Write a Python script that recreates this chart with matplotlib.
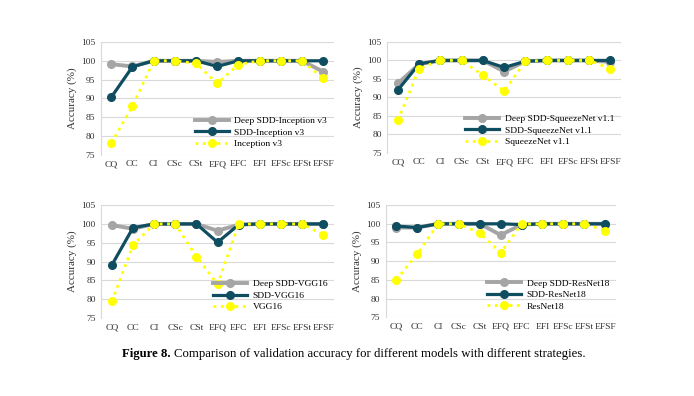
import matplotlib
matplotlib.use('Agg')
import matplotlib.pyplot as plt

plt.rcParams['font.family'] = ['Liberation Serif', 'DejaVu Serif']

strategies = ['CQ', 'CC', 'CI', 'CSc', 'CSt', 'EFQ', 'EFC', 'EFI', 'EFSc', 'EFSt', 'EFSF']

# Inception v3
deep_inc = [99.1, 98.5, 100, 100, 100, 99.7, 100, 100, 100, 100, 97.1]
sdd_inc = [90.3, 98.4, 100, 100, 100, 98.5, 100, 100, 100, 100, 100]
base_inc = [78.1, 87.9, 100, 100, 99.3, 94.0, 99.0, 100, 100, 100, 95.3]

# SqueezeNet v1.1
deep_sq = [93.8, 99.0, 100, 100, 100, 97.0, 99.8, 100, 100, 100, 99.6]
sdd_sq = [92.0, 99.1, 100, 100, 100, 98.1, 99.8, 100, 100, 100, 100]
base_sq = [83.8, 97.8, 100, 100, 96.0, 91.7, 99.8, 100, 100, 100, 97.8]

# VGG16
deep_vgg = [99.7, 98.7, 100, 100, 100, 98.2, 99.8, 100, 100, 100, 100]
sdd_vgg = [89.1, 99.0, 100, 100, 100, 95.1, 99.8, 100, 100, 100, 100]
base_vgg = [79.4, 94.4, 100, 100, 91.3, 84.0, 99.9, 100, 100, 100, 97.1]

# ResNet18
deep_res = [99.0, 99.0, 100, 100, 100, 97.0, 99.8, 100, 100, 100, 100]
sdd_res = [99.4, 99.0, 100, 100, 100, 100, 99.8, 100, 100, 100, 100]
base_res = [85.0, 91.9, 100, 100, 97.5, 92.3, 99.9, 100, 100, 100, 98.2]

panels = [
    ('Inception v3', deep_inc, sdd_inc, base_inc, [0.145, 0.609, 0.336, 0.285]),
    ('SqueezeNet v1.1', deep_sq, sdd_sq, base_sq, [0.558, 0.614, 0.337, 0.280]),
    ('VGG16', deep_vgg, sdd_vgg, base_vgg, [0.146, 0.197, 0.335, 0.285]),
    ('ResNet18', deep_res, sdd_res, base_res, [0.556, 0.199, 0.331, 0.283]),
]

GREY = '#A5A5A5'
TEAL = '#0F4D61'
YELLOW = '#FFFF00'
FS = 6.8

fig = plt.figure(figsize=(6.94, 3.96), dpi=100)
x = list(range(len(strategies)))

for name, deep, sdd, base, rect in panels:
    ax = fig.add_axes(rect)
    ax.plot(x, deep, '-o', color=GREY, lw=2.8, ms=5.5, label=f'Deep SDD-{name}', zorder=3)
    ax.plot(x, sdd, '-o', color=TEAL, lw=2.3, ms=5.5, label=f'SDD-{name}', zorder=4)
    ax.plot(x, base, ':o', color=YELLOW, lw=2.0, ms=5.5, label=name, zorder=5)
    ax.set_xlim(-0.5, 10.5)
    ax.set_ylim(75, 105)
    ax.set_yticks([75, 80, 85, 90, 95, 100, 105])
    ax.set_xticks(x)
    ax.set_xticklabels(strategies)
    ax.tick_params(length=0, labelsize=FS, pad=4, colors='#333333')
    ax.grid(axis='y', color='#D9D9D9', lw=0.8)
    ax.set_axisbelow(True)
    for s in ['top', 'right', 'bottom']:
        ax.spines[s].set_visible(False)
    ax.spines['left'].set_color('#D9D9D9')
    ax.spines['left'].set_linewidth(0.8)
    ax.set_ylabel('Accuracy (%)', fontsize=8, labelpad=3, color='#333333')
    ax.legend(loc='lower right', frameon=False, fontsize=FS, handlelength=3.6,
              handletextpad=0.6, labelspacing=0.3, borderaxespad=0.3)

fig.canvas.draw()
r = fig.canvas.get_renderer()
t1 = fig.text(0.176, 0.098, 'Figure 8.', fontsize=9.2, fontweight='bold', va='baseline')
bb = t1.get_window_extent(r)
fig.text(bb.x1 / fig.bbox.width + 0.005, 0.098,
         'Comparison of validation accuracy for different models with different strategies.',
         fontsize=9.2, va='baseline')

fig.savefig('out.png', dpi=100)
